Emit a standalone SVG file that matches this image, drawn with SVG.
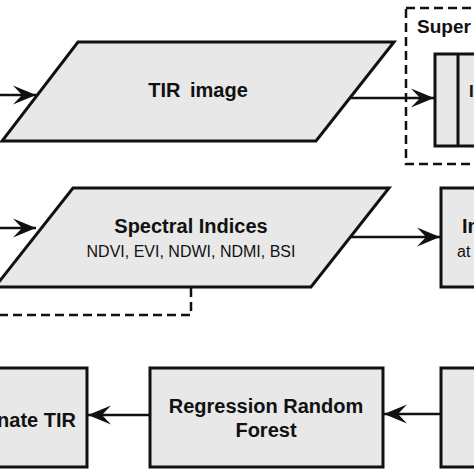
<svg xmlns="http://www.w3.org/2000/svg" width="474" height="474" viewBox="0 0 474 474">
<defs>
<style>
.shape{fill:#e8e8e8;stroke:#111;stroke-width:3;stroke-linejoin:miter}
.dash{fill:none;stroke:#111;stroke-width:2.5;stroke-dasharray:9 5}
.conn{fill:none;stroke:#111;stroke-width:2.5}
.b{font-family:"Liberation Sans",Arial,Helvetica,sans-serif;font-weight:bold;font-size:20px;fill:#111}
.r{font-family:"Liberation Sans",Arial,Helvetica,sans-serif;font-size:16px;fill:#111}
</style>
<marker id="arr" markerUnits="userSpaceOnUse" markerWidth="26" markerHeight="22" viewBox="-24 -11 26 22" refX="0" refY="0" orient="auto">
<path d="M0,0 L-23,-9.5 L-14,0 L-23,9.5 Z" fill="#111"/>
</marker>
</defs>
<rect width="474" height="474" fill="#fff"/>

<g id="super-group">
<rect class="dash" x="406" y="8" width="80" height="156"/>
<text class="b" x="417" y="33" style="font-size:19px">Super</text>
</g>

<g id="predefined-box">
<rect class="shape" x="435" y="54" width="60" height="92"/>
<line x1="458" y1="54" x2="458" y2="146" stroke="#111" stroke-width="3"/>
<text class="b" x="469" y="97" style="font-size:17px">I</text>
</g>

<g id="tir-image">
<polygon class="shape" points="78,42 394,42 316,141 2,141"/>
<text class="b" x="198" y="97" text-anchor="middle" word-spacing="4">TIR image</text>
</g>

<g id="spectral-indices">
<polygon class="shape" points="73,188 389,188 311,287 -5,287"/>
<text class="b" x="191" y="233" text-anchor="middle">Spectral Indices</text>
<text class="r" x="191" y="257" text-anchor="middle">NDVI, EVI, NDWI, NDMI, BSI</text>
</g>

<g id="in-box">
<rect class="shape" x="441" y="188" width="60" height="99"/>
<text class="b" x="462" y="233">In</text>
<text class="r" x="457" y="257">at</text>
</g>

<g id="estimate-tir">
<rect class="shape" x="-20" y="368" width="107" height="99"/>
<text class="b" x="76" y="427" text-anchor="end">nate TIR</text>
</g>

<g id="regression-rf">
<rect class="shape" x="150" y="368" width="233" height="99"/>
<text class="b" x="266" y="413" text-anchor="middle">Regression Random</text>
<text class="b" x="266" y="437" text-anchor="middle">Forest</text>
</g>

<g id="bottom-right-box">
<rect class="shape" x="441" y="368" width="60" height="99"/>
</g>

<g id="connectors">
<line class="conn" x1="0" y1="95" x2="36" y2="95" marker-end="url(#arr)"/>
<line class="conn" x1="351" y1="98" x2="434" y2="98" marker-end="url(#arr)"/>
<line class="conn" x1="0" y1="228" x2="36" y2="228" marker-end="url(#arr)"/>
<line class="conn" x1="350" y1="237" x2="440" y2="237" marker-end="url(#arr)"/>
<line class="conn" x1="441" y1="414" x2="384" y2="414" marker-end="url(#arr)"/>
<line class="conn" x1="150" y1="415" x2="88" y2="415" marker-end="url(#arr)"/>
<polyline class="dash" points="191,288 191,315 0,315"/>
</g>
</svg>
